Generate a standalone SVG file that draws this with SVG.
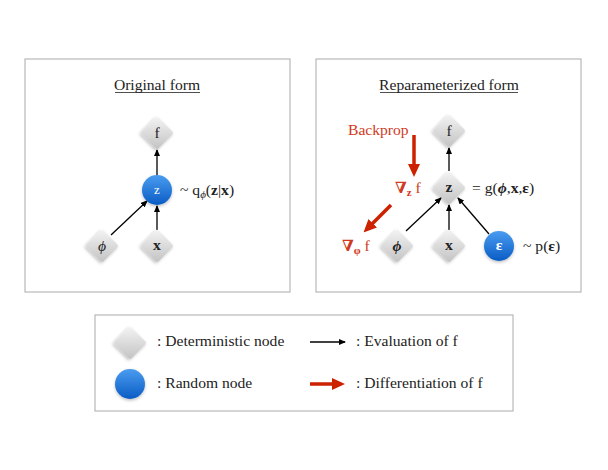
<svg xmlns="http://www.w3.org/2000/svg" width="608" height="470" viewBox="0 0 608 470">
<defs>
  <linearGradient id="gDet" x1="0" y1="0" x2="1" y2="1">
    <stop offset="0" stop-color="#f4f4f4"/>
    <stop offset="1" stop-color="#c2c2c2"/>
  </linearGradient>
  <linearGradient id="gRnd" x1="0" y1="0" x2="0" y2="1">
    <stop offset="0" stop-color="#4a9cf0"/>
    <stop offset="1" stop-color="#0a5cc4"/>
  </linearGradient>
  <filter id="sh" x="-40%" y="-40%" width="180%" height="180%">
    <feDropShadow dx="0" dy="1.5" stdDeviation="1.5" flood-color="#000" flood-opacity="0.25"/>
  </filter>
  <marker id="ab" markerUnits="userSpaceOnUse" markerWidth="7" markerHeight="6" refX="6" refY="3" orient="auto">
    <path d="M0,0 L7,3 L0,6 z" fill="#000"/>
  </marker>
  <marker id="ar" markerUnits="userSpaceOnUse" markerWidth="13" markerHeight="12" refX="1" refY="6" orient="auto">
    <path d="M0,0 L13,6 L0,12 z" fill="#cc2200"/>
  </marker>
  <rect id="dia" x="-12" y="-12" width="24" height="24" rx="2.5" transform="rotate(45)" fill="url(#gDet)" filter="url(#sh)"/>
  <circle id="rnd" r="15" fill="url(#gRnd)" filter="url(#sh)"/>
</defs>
<style>
  .box { fill: #fff; stroke: #aaa; stroke-width: 1; }
  text { font-family: "Liberation Serif", "DejaVu Serif", serif; font-size: 15.6px; fill: #222; }
  .c { text-anchor: middle; }
  .w { fill: #fff; }
  .b { font-weight: bold; }
  .i { font-style: italic; }
  .s { font-size: 11px; }
  .red { fill: #d03a22; }
  .ev { stroke: #000; stroke-width: 1.3; fill: none; marker-end: url(#ab); }
  .df { stroke: #cc2200; stroke-width: 3.5; fill: none; marker-end: url(#ar); }
  .ul { stroke: #222; stroke-width: 0.8; }
</style>

<rect class="box" x="25" y="59" width="265" height="233"/>
<rect class="box" x="316" y="59" width="265" height="233"/>
<rect class="box" x="95" y="315" width="418" height="96"/>

<g id="title-left">
  <text class="c" x="157" y="90">Original form</text>
  <line class="ul" x1="115" y1="92.5" x2="200" y2="92.5"/>
</g>
<g id="title-right">
  <text class="c" x="449" y="90">Reparameterized form</text>
  <line class="ul" x1="380" y1="92.5" x2="518" y2="92.5"/>
</g>

<g id="connectors">
  <line class="ev" x1="157" y1="175" x2="157" y2="150"/>
  <line class="ev" x1="111" y1="235" x2="147" y2="201"/>
  <line class="ev" x1="157" y1="230" x2="157" y2="206"/>
  <line class="ev" x1="449" y1="171" x2="449" y2="148"/>
  <line class="ev" x1="406" y1="231" x2="441" y2="198"/>
  <line class="ev" x1="449" y1="230" x2="449" y2="205"/>
  <line class="ev" x1="489" y1="234" x2="458" y2="198"/>
  <line class="df" x1="414" y1="135" x2="414" y2="165"/>
  <line class="df" x1="391" y1="205" x2="372" y2="224"/>
  <line class="ev" x1="310" y1="342" x2="345" y2="342"/>
  <line class="df" x1="310" y1="384" x2="333" y2="384"/>
</g>

<g id="L-f"><use href="#dia" x="157" y="133"/><text class="c" x="157" y="138">f</text></g>
<g id="L-z"><use href="#rnd" x="157" y="190"/><text class="c w" x="157" y="194" style="font-size:13px">z</text></g>
<g id="L-phi"><use href="#dia" x="102" y="246"/><text class="c i" x="102" y="251">ϕ</text></g>
<g id="L-x"><use href="#dia" x="157" y="246"/><text class="c b" x="157" y="250">x</text></g>
<g id="L-qlabel"><text x="180" y="195">~ q<tspan class="i s" dy="3">ϕ</tspan><tspan dy="-3">(</tspan><tspan class="b">z</tspan>|<tspan class="b">x</tspan>)</text></g>

<g id="R-f"><use href="#dia" x="449" y="131"/><text class="c" x="449" y="136">f</text></g>
<g id="R-z"><use href="#dia" x="449" y="188"/><text class="c b" x="449" y="192">z</text></g>
<g id="R-phi"><use href="#dia" x="397" y="246"/><text class="c b i" x="397" y="251">ϕ</text></g>
<g id="R-x"><use href="#dia" x="449" y="246"/><text class="c b" x="449" y="250">x</text></g>
<g id="R-eps"><use href="#rnd" x="499" y="246"/><text class="c w b" x="499" y="250">ε</text></g>
<g id="R-glabel"><text x="472" y="193">= g(<tspan class="b i">ϕ</tspan>,<tspan class="b">x</tspan>,<tspan class="b">ε</tspan>)</text></g>
<g id="R-plabel"><text x="523" y="251">~ p(<tspan class="b">ε</tspan>)</text></g>
<g id="R-backprop"><text class="red" x="348" y="135">Backprop</text></g>
<g id="R-gradz"><text class="red" x="395" y="193"><tspan class="b">∇</tspan><tspan class="b s" dy="3">z</tspan><tspan dy="-3"> f</tspan></text></g>
<g id="R-gradphi"><text class="red" x="342" y="251"><tspan class="b">∇</tspan><tspan class="b s" dy="3">φ</tspan><tspan dy="-3"> f</tspan></text></g>

<g id="legend-det"><use href="#dia" x="130" y="343"/><text x="157" y="346">: Deterministic node</text></g>
<g id="legend-rnd"><use href="#rnd" x="130" y="384"/><text x="157" y="388">: Random node</text></g>
<g id="legend-eval"><text x="356" y="346">: Evaluation of f</text></g>
<g id="legend-diff"><text x="356" y="388">: Differentiation of f</text></g>
</svg>
